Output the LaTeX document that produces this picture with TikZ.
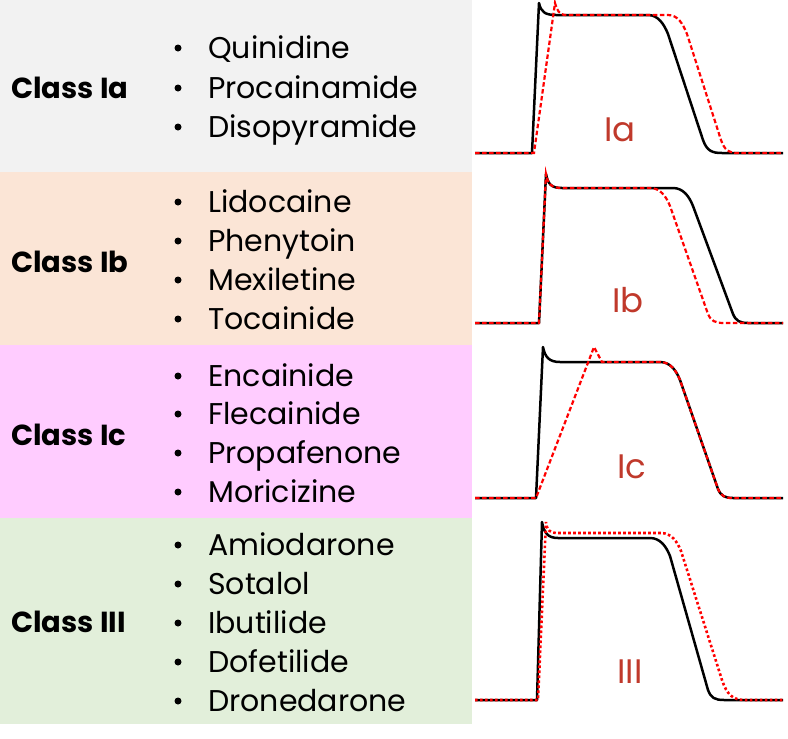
\documentclass[tikz,border=0pt]{standalone}
\usepackage{fontspec}
\setmainfont{Poppins}
\definecolor{bga}{HTML}{F2F2F2}
\definecolor{bgb}{HTML}{FBE5D6}
\definecolor{bgc}{HTML}{FFCCFF}
\definecolor{bgd}{HTML}{E2EFDA}
\definecolor{lab}{HTML}{C0392B}
\begin{document}
\begin{tikzpicture}[x=1pt,y=-1pt,
  cls/.style={anchor=base west,inner sep=0pt,font=\bfseries\fontsize{29}{32}\selectfont},
  item/.style={anchor=base west,inner sep=0pt,font=\fontsize{30}{34}\selectfont},
  bul/.style={circle,fill=black,inner sep=0pt,minimum size=7pt},
  lbl/.style={text=lab,font=\fontsize{34}{38}\selectfont},
  ap/.style={black,line width=2.5pt,line join=round},
  dr/.style={red,line width=2.2pt,dash pattern=on 4.5pt off 2.5pt},
  dt/.style={red,line width=2.6pt,dash pattern=on 2.6pt off 2.4pt}]
\useasboundingbox (0,0) rectangle (788,739);
\fill[white] (0,0) rectangle (788,739);
\fill[bga] (0,0) rectangle (472,172);
\fill[bgb] (0,172) rectangle (472,345);
\fill[bgc] (0,345) rectangle (472,518);
\fill[bgd] (0,518) rectangle (472,724);
\node[cls] (ca) at (11,98) {Class Ia};
\node[cls] (cb) at (11,272) {Class Ib};
\node[cls] (cc) at (11,445) {Class Ic};
\node[cls] (cd) at (11,632) {Class III};
\foreach \t/\y [count=\i] in {Quinidine/48,Procainamide/88,Disopyramide/127,
 Lidocaine/202,Phenytoin/241,Mexiletine/280,Tocainide/319,
 Encainide/376,Flecainide/414,Propafenone/453,Moricizine/492,
 Amiodarone/545,Sotalol/584,Ibutilide/623,Dofetilide/662,Dronedarone/701}{
  \node[bul] (b\i) at (178,\y) {};
  \node[item] (t\i) at (208,\y+10.5) {\t};
}
% Ia
\draw[ap] (475,153)--(532,153)--(539,3) .. controls (541,12) and (545,15) .. (556,15) -- (648,15) .. controls (658,15) and (664,24) .. (668,34) -- (703,140) .. controls (707,151) and (712,153) .. (722,153) -- (783,153);
\draw[dr] (475,153)--(534,153)--(555,3) .. controls (557,10) and (559,15) .. (566,15) -- (668,15) .. controls (678,15) and (683,24) .. (687,34) -- (721,140) .. controls (725,151) and (729,153) .. (738,153) -- (783,153);
\node[lbl] (la) at (620,130) {Ia};
% Ib
\draw[ap] (475,323)--(539,323)--(546,174) .. controls (548,184) and (551,188) .. (562,188) -- (673,188) .. controls (683,188) and (689,196) .. (693,206) -- (733,314) .. controls (736,321) and (740,323) .. (748,323) -- (783,323);
\draw[dr] (475,323)--(539,323)--(546,174) .. controls (548,184) and (551,188) .. (562,188) -- (650,188) .. controls (660,188) and (666,196) .. (670,206) -- (708,314) .. controls (711,321) and (715,323) .. (724,323) -- (783,323);
\node[lbl] (lb) at (628,300) {Ib};
% Ic
\draw[ap] (475,498)--(536,498)--(543,347) .. controls (545,357) and (549,362) .. (560,362) -- (660,362) .. controls (670,362) and (676,370) .. (680,380) -- (718,489) .. controls (721,496) and (725,498) .. (733,498) -- (783,498);
\draw[dr] (475,498)--(536,498)--(594,347) -- (602,362) -- (660,362) .. controls (670,362) and (676,370) .. (680,380) -- (718,489) .. controls (721,496) and (725,498) .. (733,498) -- (783,498);
\node[lbl] (lc) at (632,467) {Ic};
% III
\draw[ap] (475,700)--(537,700)--(542,522) .. controls (544,533) and (548,538) .. (558,538) -- (650,538) .. controls (660,538) and (666,546) .. (670,556) -- (708,690) .. controls (711,698) and (715,700) .. (724,700) -- (783,700);
\draw[dt] (475,700)--(538,700)--(546,522) .. controls (547,530) and (549,533) .. (558,533) -- (661,533) .. controls (671,533) and (677,541) .. (681,551) -- (722,680) .. controls (727,695) and (733,700) .. (745,700) -- (783,700);
\node[lbl] (ld) at (630,672) {III};
\end{tikzpicture}
\end{document}
